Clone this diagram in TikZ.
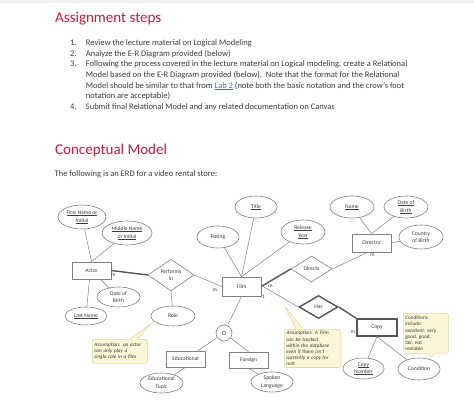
\documentclass[tikz,border=0pt]{standalone}
\usepackage{fontspec}
\setmainfont{Carlito}
\usetikzlibrary{shapes.geometric,shapes.callouts}
\definecolor{hred}{HTML}{C41E3A}
\definecolor{txt}{HTML}{3A3A3A}
\definecolor{ln}{HTML}{7F7F7F}
\definecolor{thk}{HTML}{555555}
\definecolor{callfill}{HTML}{FDF5D8}
\definecolor{calldraw}{HTML}{E3D9A8}
\definecolor{linkc}{HTML}{4A6FC0}
\newcommand{\ul}[1]{\setbox0\hbox{#1}\rlap{\rule[-0.9pt]{\wd0}{0.3pt}}\box0}
\begin{document}
\begin{tikzpicture}[x=1pt,y=-1pt,
  head/.style={anchor=base west,inner sep=0,text=hred,font=\fontsize{15}{18}\selectfont},
  body/.style={anchor=base west,inner sep=0,text=txt,font=\fontsize{8.5}{10}\selectfont},
  ent/.style={draw=ln,line width=0.6pt,rectangle,minimum width=39pt,minimum height=17pt,inner sep=0,font=\fontsize{5.6}{6.5}\selectfont,text=txt},
  thickent/.style={ent,draw=thk,line width=1.4pt},
  attr/.style={draw=ln,line width=0.6pt,ellipse,inner sep=0,font=\fontsize{5.6}{7.2}\selectfont,text=txt,align=center},
  rel/.style={draw=ln,line width=0.6pt,diamond,inner sep=0,font=\fontsize{5.6}{7.2}\selectfont,text=txt,align=center},
  conn/.style={draw=ln,line width=0.5pt},
  tot/.style={draw=thk,line width=1.4pt},
  card/.style={inner sep=0,font=\fontsize{5.3}{6}\selectfont,text=txt},
  note/.style={rectangle callout,draw=calldraw,fill=callfill,line width=0.6pt,rounded corners=2pt,anchor=north west,inner sep=2pt,align=left,text=txt,font=\fontsize{5.2}{6.1}\selectfont\itshape}
]
\useasboundingbox (0,0) rectangle (474,401);
\fill[gray!12] (0,0) rectangle (474,3);

\node[head] (h1) at (55,22.5) {Assignment steps};
\node[body] (n1) at (70,45.5) {1.};
\node[body] (t1) at (85.7,45.5) {Review the lecture material on Logical Modeling};
\node[body] (n2) at (70,56.2) {2.};
\node[body] (t2) at (85.7,56.2) {Analyze the E-R Diagram provided (below)};
\node[body] (n3) at (70,66.9) {3.};
\node[body] (t3a) at (85.7,66.9) {Following the process covered in the lecture material on Logical modeling, create a Relational};
\node[body] (t3b) at (85.7,77.6) {Model based on the E-R Diagram provided (below).\ \ Note that the format for the Relational};
\node[body] (t3c) at (85.7,88.3) {Model should be similar to that from \textcolor{linkc}{\ul{Lab 2}} (note both the basic notation and the crow’s foot};
\node[body] (t3d) at (85.7,99.0) {notation are acceptable)};
\node[body] (n4) at (70,109.7) {4.};
\node[body] (t4) at (85.7,109.7) {Submit final Relational Model and any related documentation on Canvas};

\node[head] (h2) at (55,155) {Conceptual Model};
\node[body] (intro) at (54.5,176.5) {The following is an ERD for a video rental store:};

% entities
\node[ent] (actor) at (91.5,270.5) {Actor};
\node[ent,minimum height=19pt] (film) at (241.5,286.5) {Film};
\node[ent,minimum height=18pt] (director) at (371.5,243) {Director};
\node[thickent,minimum width=40pt] (copy) at (377,327.5) {Copy};
\node[ent,minimum height=16pt] (edu) at (185.5,359) {Educational};
\node[ent,minimum height=16pt] (foreign) at (248.5,360) {Foreign};

% relationships
\node[rel,minimum width=46pt,minimum height=28pt] (perf) at (171,275) {Performs\\In};
\node[rel,minimum width=41pt,minimum height=26pt] (directs) at (311.5,269) {Directs};
\node[rel,draw=thk,line width=1.4pt,minimum width=39pt,minimum height=23pt] (has) at (318.5,307) {Has};

% attributes
\node[attr,minimum width=48pt,minimum height=24pt] (fname) at (82,217) {\ul{First Name or}\\\ul{Initial}};
\node[attr,minimum width=50pt,minimum height=24pt] (mname) at (127,233) {\ul{Middle Name}\\\ul{or Initial}};
\node[attr,minimum width=43pt,minimum height=20pt] (adob) at (118.5,297) {Date of\\Birth};
\node[attr,minimum width=42pt,minimum height=18pt] (lname) at (86,316) {\ul{Last Name}};
\node[attr,minimum width=44pt,minimum height=20pt] (role) at (173,316) {Role};
\node[attr,minimum width=42pt,minimum height=22pt] (rating) at (218,237) {Rating};
\node[attr,minimum width=42pt,minimum height=22pt] (title) at (256,207) {\ul{Title}};
\node[attr,minimum width=44pt,minimum height=24pt] (ryear) at (303,232) {\ul{Release}\\\ul{Year}};
\node[attr,minimum width=44pt,minimum height=22pt] (dname) at (352,207) {\ul{Name}};
\node[attr,minimum width=44pt,minimum height=22pt] (ddob) at (406,207) {\ul{Date of}\\\ul{Birth}};
\node[attr,minimum width=44pt,minimum height=24pt] (country) at (421,237) {Country\\of Birth};
\node[attr,minimum width=41pt,minimum height=21pt] (cnum) at (363.5,368.5) {\ul{Copy}\\\ul{Number}};
\node[attr,minimum width=42pt,minimum height=22pt] (cond) at (419,369) {Condition};
\node[attr,minimum width=43pt,minimum height=20pt] (topic) at (161.5,383) {Educational\\Topic};
\node[attr,minimum width=42pt,minimum height=20pt] (spoken) at (272,382) {Spoken\\Language};
\node[draw=ln,line width=0.6pt,circle,minimum size=16pt,inner sep=0,font=\fontsize{6.5}{7}\selectfont,text=txt] (o) at (224,333) {O};

% connectors
\draw[conn] (actor.north) -- (fname);
\draw[conn] (actor.north) -- (mname);
\draw[conn] (actor) -- (adob);
\draw[conn] ([xshift=-2pt]actor.south) -- (lname);
\draw[tot] (actor.east) -- (perf.west);
\draw[conn] (perf.east) -- (film.west);
\draw[conn] (perf.south) -- (role);
\draw[conn] (rating) -- (film.north);
\draw[conn] (title) -- (film.north);
\draw[conn] (ryear) -- (film.north);
\draw[tot] (film.east) -- (directs.west);
\draw[conn] (directs.east) -- ([xshift=-4pt]director.south);
\draw[conn] (dname) -- (director.north);
\draw[conn] (ddob) -- (director.north);
\draw[conn] (director.east) -- (country);
\draw[conn] ([yshift=1pt]film.east) -- (has.west);
\draw[tot] (has.east) -- (copy.north west);
\draw[conn] (copy.south) -- (cnum);
\draw[conn] (copy.south) -- (cond);
\draw[conn] (film.south) -- (o);
\draw[conn] (o) -- (edu);
\draw[conn] (o) -- (foreign.north);
\draw[conn] (edu.south) -- (topic);
\draw[conn] (foreign.south) -- (spoken);

% cardinalities
\node[card] (m1) at (113.5,275.5) {m};
\node[card] (m2) at (215,290) {m};
\node[card] (m3) at (270.5,286) {m};
\node[card] (one) at (263.5,297) {1};
\node[card] (m4) at (372.5,255.5) {m};
\node[card] (m5) at (353,332) {m};

% notes
\node[note,text width=51pt,minimum height=24pt,callout absolute pointer={(152,323)}] (c1) at (92,339) {Assumption: an actor\\can only play a\\single role in a film};
\node[note,text width=52pt,minimum height=38pt,callout absolute pointer={(284.5,306)}] (c2) at (284,329) {Assumption: A Film\\can be tracked\\within the database\\even if there isn’t\\currently a copy for\\rent};
\node[note,font=\fontsize{5.2}{6.1}\selectfont,text width=41pt,minimum height=40pt,callout absolute pointer={(432,357.5)}] (c3) at (403,313) {Conditions\\include:\\excellent, very\\good, good,\\fair, not\\rentable};
\end{tikzpicture}
\end{document}
